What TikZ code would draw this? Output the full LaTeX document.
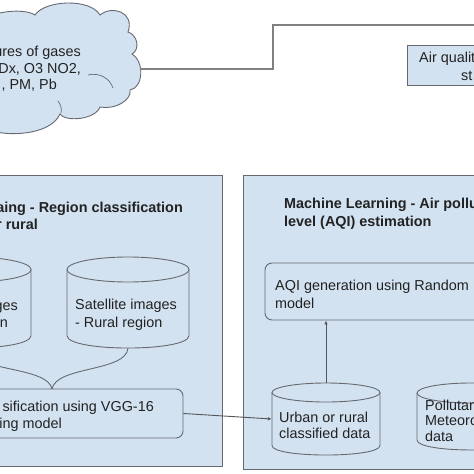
\documentclass[tikz,border=0pt]{standalone}
\usepackage{fontspec}
\setmainfont{Liberation Sans}
\usetikzlibrary{arrows.meta}
\definecolor{bluefill}{HTML}{D3E2F1}
\definecolor{edgecol}{HTML}{666A70}
\definecolor{txtcol}{HTML}{222222}
\definecolor{conncol}{HTML}{808080}
\tikzset{
  txt/.style={font=\fontsize{14.4}{17}\selectfont, inner sep=0pt, text=txtcol},
  btxt/.style={txt, font=\fontsize{14.4}{17}\selectfont\bfseries},
  panel/.style={draw=edgecol, fill=bluefill, line width=1pt, inner sep=0pt},
  rbox/.style={draw=edgecol, fill=bluefill, line width=0.9pt, rounded corners=7pt, inner sep=0pt},
  cylsty/.style={draw=edgecol, fill=bluefill, line width=0.9pt},
  hitbox/.style={inner sep=0pt, draw=none},
  conn/.style={draw=conncol, line width=1.3pt},
  arr/.style={draw=edgecol!80!black, line width=0.9pt, -{Latex[length=4pt,width=3.5pt]}},
}
\begin{document}
\begin{tikzpicture}[x=1pt,y=-1pt]
\useasboundingbox (0,0) rectangle (474,474);
\clip (0,0) rectangle (474,474);
\fill[white] (0,0) rectangle (474,474);

% cloud
\filldraw[draw=edgecol, fill=bluefill, line width=0.9pt]
  (-40,40) .. controls (-35,15) and (20,5) .. (35,15)
  .. controls (45,0) and (90,-2) .. (100,15)
  .. controls (112,5) and (135,12) .. (128,32)
  .. controls (138,35) and (140,50) .. (132,54)
  .. controls (145,62) and (143,88) .. (130,90)
  .. controls (132,100) and (115,110) .. (100,107)
  .. controls (95,120) and (65,122) .. (60,114)
  .. controls (50,138) and (-10,140) .. (-30,120) -- cycle;
\draw[draw=edgecol, line width=0.7pt] (88,75) .. controls (100,72) and (110,79) .. (113,88);
\draw[draw=edgecol, line width=0.7pt] (58,101) .. controls (61,105) and (62,109) .. (61,113);
\coordinate (cloudE) at (140,69);
\coordinate (turn) at (273,25);
\coordinate (endR) at (480,25);
\draw[conn] (cloudE) -| (turn) -- (endR);
\node[txt, anchor=base east] (c1) at (81,56) {ures of gases};
\node[txt, anchor=base east] (c2) at (81,73) {Dx, O3 NO2,};
\node[txt, anchor=base east] (c3) at (57,89) {, PM, Pb};

% air quality box
\node[panel, minimum width=123pt, minimum height=40pt] (aq) at (468.5,65) {};
\node[txt, anchor=base west] (aq1) at (419,62) {Air qualit};
\node[txt, anchor=base west] (aq2) at (461,80) {st};

% panels
\node[panel, minimum width=242pt, minimum height=291pt] (left) at (101,320.5) {};
\node[panel, minimum width=287pt, minimum height=294pt] (right) at (386.5,322) {};

\node[btxt, anchor=base east] (lt1) at (183,212) {aing - Region classification};
\node[btxt, anchor=base east] (lt2) at (38,229) {r rural};
\node[btxt, anchor=base west] (rt1) at (284,208) {Machine Learning - Air pollu};
\node[btxt, anchor=base west] (rt2) at (284,226) {level (AQI) estimation};

% cylinder A (left, cut)
\filldraw[cylsty] (-91,269.5) -- (-91,335.5) .. controls (-91,352.2) and (31,352.2) .. (31,335.5) -- (31,269.5);
\filldraw[cylsty] (-30,269.5) ellipse [x radius=61pt, y radius=12.5pt];
\node[hitbox, minimum width=122pt, minimum height=91pt] (cylA) at (-30,302.5) {};
\node[txt, anchor=base east] (a1) at (18,310) {ges};
\node[txt, anchor=base east] (a2) at (8,327) {n};

% cylinder B
\filldraw[cylsty] (67,269.5) -- (67,335.5) .. controls (67,352.2) and (189,352.2) .. (189,335.5) -- (189,269.5);
\filldraw[cylsty] (128,269.5) ellipse [x radius=61pt, y radius=12.5pt];
\node[hitbox, minimum width=122pt, minimum height=91pt] (cylB) at (128,302.5) {};
\node[txt, anchor=base west] (b1) at (75,309) {Satellite images};
\node[txt, anchor=base west] (b2) at (75,327) {- Rural region};

% VGG box
\node[rbox, minimum width=243pt, minimum height=49pt] (vgg) at (61.5,413.5) {};
\node[txt, anchor=base east] (v1) at (154,411) {sification using VGG-16};
\node[txt, anchor=base east] (v2) at (62,428) {ing model};
\coordinate (tip) at (52,389);
\draw[draw=edgecol, line width=0.9pt] (cylB.south) .. controls (126,372) and (56,366) .. (tip);
\draw[draw=edgecol, line width=0.9pt] (cylA.south) .. controls (-28,372) and (48,366) .. (tip);

% AQI box
\node[rbox, minimum width=265pt, minimum height=57pt] (aqi) at (397.5,291.5) {};
\node[txt, anchor=base west] (q1) at (275,290) {AQI generation using Random};
\node[txt, anchor=base west] (q2) at (275,308) {model};

% urban cylinder
\filldraw[cylsty] (272,392.5) -- (272,445.5) .. controls (272,458.2) and (380,458.2) .. (380,445.5) -- (380,392.5);
\filldraw[cylsty] (326,392.5) ellipse [x radius=54pt, y radius=9.5pt];
\node[hitbox, minimum width=108pt, minimum height=72pt] (urb) at (326,419) {};
\node[txt, anchor=base west] (u1) at (279,422) {Urban or rural};
\node[txt, anchor=base west] (u2) at (279,438) {classified data};

% pollutant cylinder
\filldraw[cylsty] (417,393) -- (417,440) .. controls (417,453.3) and (525,453.3) .. (525,440) -- (525,393);
\filldraw[cylsty] (471,393) ellipse [x radius=54pt, y radius=10pt];
\node[hitbox, minimum width=108pt, minimum height=67pt] (pol) at (471,416.5) {};
\node[txt, anchor=base west] (p1) at (425,410) {Pollutan};
\node[txt, anchor=base west] (p2) at (425,425) {Meteoro};
\node[txt, anchor=base west] (p3) at (425,441) {data};

% connectors
\draw[arr] (vgg.east) -- (urb.west);
\draw[arr] (urb.north) -- (urb.north |- aqi.south);
\end{tikzpicture}
\end{document}
